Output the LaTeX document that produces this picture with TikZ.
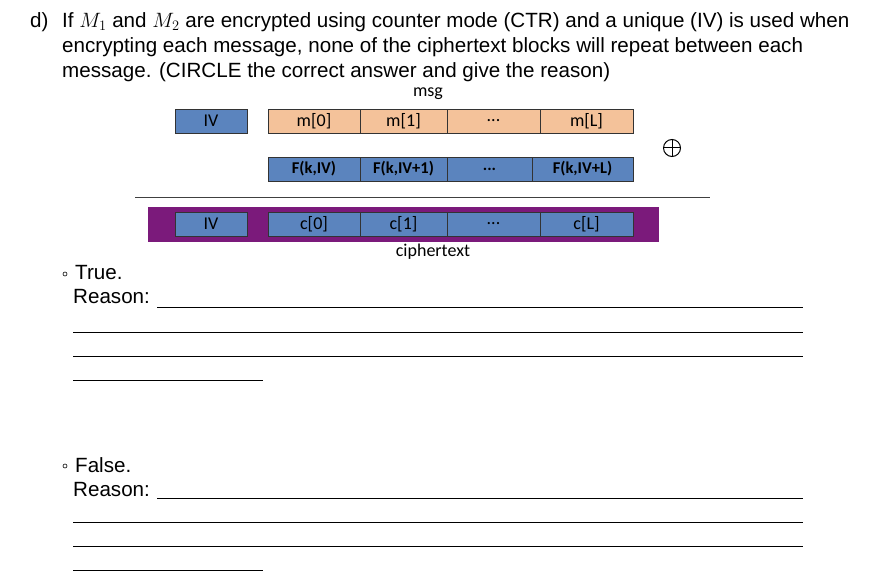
\documentclass[tikz,border=0pt]{standalone}
\usepackage{amsmath}
\usepackage{fontspec}
\setmainfont{Liberation Sans}
\newfontfamily\calfont{Carlito}
\begin{document}
\begin{tikzpicture}[x=1pt,y=-1pt,
  txt/.style={anchor=west,inner sep=0pt,font=\fontsize{20.6}{24}\selectfont},
  ans/.style={line width=0.8pt}]
\useasboundingbox (0,0) rectangle (885,585);
\definecolor{bl}{HTML}{5B84BE}
\definecolor{or}{HTML}{F4C29A}
\definecolor{pu}{HTML}{7B1A7B}
\node[txt] (d) at (30,22) {d)};
\node[txt] (l1) at (62,22) {If $M_1$ and $M_2$ are encrypted using counter mode (CTR) and a unique (IV) is used when};
\node[txt] (l2) at (62,47) {encrypting each message, none of the ciphertext blocks will repeat between each};
\node[txt] (l3) at (62,72) {message. (CIRCLE the correct answer and give the reason)};
\node[font=\calfont\fontsize{18}{20}\selectfont,inner sep=0pt] (msg) at (428,94) {msg};
\node[draw=black!80,fill=bl,line width=0.8pt,minimum width=72,minimum height=24,inner sep=0pt,font=\calfont\fontsize{18}{20}\selectfont] (iv1) at (211,121) {IV};
\foreach \a/\b/\t/\n in {268/360/{m[0]}/m0,360/447/{m[1]}/m1,447/540/{...}/md,540/633/{m[L]}/mL}{
  \draw[draw=black!80,fill=or,line width=0.8pt] (\a,109) rectangle (\b,133);
  \node[font=\calfont\fontsize{18}{20}\selectfont] (\n) at ({(\a+\b)/2},121) {\t};}
\foreach \a/\b/\t/\n in {268/360/{F(k,IV)}/f0,360/447/{F(k,IV+1)}/f1,447/532/{...}/fd,532/633/{F(k,IV+L)}/fL}{
  \draw[draw=black!80,fill=bl,line width=0.8pt] (\a,157) rectangle (\b,181);
  \node[font=\calfont\bfseries\fontsize{16.5}{20}\selectfont] (\n) at ({(\a+\b)/2},169) {\t};}
\node[draw,circle,line width=1pt,minimum size=17,inner sep=0pt] (op) at (672,148) {};
\draw[line width=1pt] (op.north) -- (op.south) (op.west) -- (op.east);
\draw[line width=0.8pt,black!75] (135,197) -- (710,197);
\fill[pu] (148,207) rectangle (659,242);
\node[draw=black!80,fill=bl,line width=0.8pt,minimum width=72,minimum height=24,inner sep=0pt,font=\calfont\fontsize{18}{20}\selectfont] (iv2) at (211,224) {IV};
\foreach \a/\b/\t/\n in {268/360/{c[0]}/c0,360/447/{c[1]}/c1,447/540/{...}/cd,540/633/{c[L]}/cL}{
  \draw[draw=black!80,fill=bl,line width=0.8pt] (\a,212) rectangle (\b,236);
  \node[font=\calfont\fontsize{18}{20}\selectfont] (\n) at ({(\a+\b)/2},224) {\t};}
\node[font=\calfont\fontsize{18}{20}\selectfont,inner sep=0pt] (ct) at (433,252) {ciphertext};
\draw[line width=0.6pt] (65,274) circle (2);
\node[txt] (b1) at (75,273) {True.};
\node[txt] (r1) at (73,297) {Reason:};
\draw[ans] (157,307) -- (803,307) (73,332) -- (803,332) (73,356) -- (803,356) (73,380) -- (263,380);
\draw[line width=0.6pt] (65,466) circle (2);
\node[txt] (b2) at (75,465) {False.};
\node[txt] (r2) at (73,490) {Reason:};
\draw[ans] (157,498) -- (803,498) (73,522) -- (803,522) (73,546) -- (803,546) (73,570) -- (263,570);
\end{tikzpicture}
\end{document}
